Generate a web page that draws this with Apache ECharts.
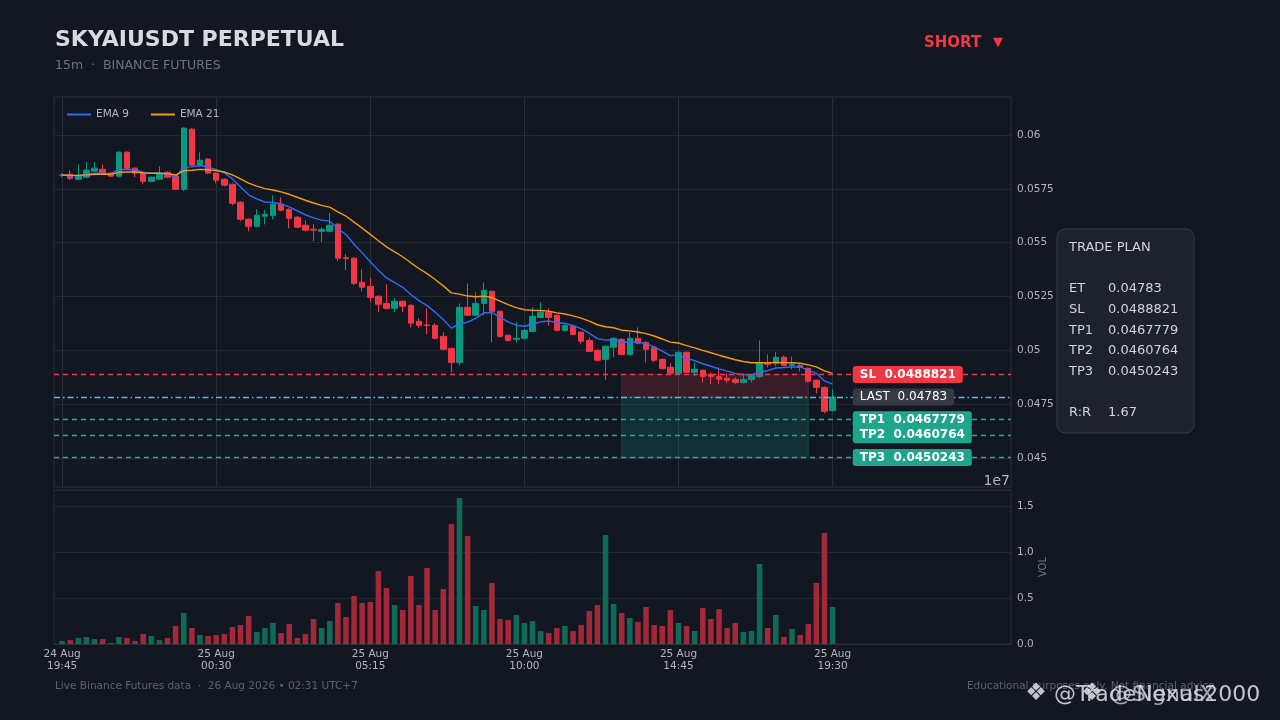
<!DOCTYPE html>
<html>
<head>
<meta charset="utf-8">
<script src="https://cdn.jsdelivr.net/npm/echarts@6/dist/echarts.min.js"></script>
<style>
html, body { margin: 0; padding: 0; background: #131722; }
#chart { width: 1280px; height: 720px; }
</style>
</head>
<body>
<div id="chart"></div>
<script>
// SKYAIUSDT 15m candles, 24 Aug 19:45 -> 25 Aug 19:30
const opens = [
  0.05813, 0.05818, 0.05795, 0.05804, 0.05832, 0.05841, 0.05823, 0.05809, 0.05920, 0.05846,
  0.05823, 0.05785, 0.05795, 0.05827, 0.05809, 0.05748, 0.06027, 0.05860, 0.05888, 0.05823,
  0.05795, 0.05771, 0.05688, 0.05609, 0.05576, 0.05623, 0.05627, 0.05679, 0.05655, 0.05618,
  0.05581, 0.05562, 0.05553, 0.05553, 0.05586, 0.05430, 0.05428, 0.05316, 0.05297, 0.05251,
  0.05218, 0.05195, 0.05228, 0.05209, 0.05135, 0.05118, 0.05116, 0.05065, 0.05009, 0.04944,
  0.05200, 0.05163, 0.05218, 0.05274, 0.05181, 0.05070, 0.05051, 0.05056, 0.05088, 0.05153,
  0.05177, 0.05163, 0.05093, 0.05112, 0.05084, 0.05046, 0.05000, 0.04958, 0.05014, 0.05051,
  0.04981, 0.05056, 0.05037, 0.05014, 0.04958, 0.04921, 0.04893, 0.04991, 0.04898, 0.04907,
  0.04888, 0.04879, 0.04870, 0.04865, 0.04851, 0.04865, 0.04879, 0.04944, 0.04940, 0.04968,
  0.04930, 0.04930, 0.04916, 0.04861, 0.04828, 0.04721
];
const closes = [
  0.05814, 0.05799, 0.05813, 0.05837, 0.05846, 0.05823, 0.05809, 0.05920, 0.05846, 0.05823,
  0.05785, 0.05804, 0.05823, 0.05804, 0.05748, 0.06032, 0.05860, 0.05883, 0.05823, 0.05790,
  0.05767, 0.05683, 0.05609, 0.05576, 0.05627, 0.05632, 0.05679, 0.05651, 0.05613, 0.05572,
  0.05558, 0.05558, 0.05562, 0.05581, 0.05428, 0.05427, 0.05311, 0.05293, 0.05246, 0.05214,
  0.05195, 0.05228, 0.05205, 0.05126, 0.05116, 0.05115, 0.05056, 0.05005, 0.04944, 0.05200,
  0.05163, 0.05218, 0.05279, 0.05181, 0.05065, 0.05046, 0.05056, 0.05093, 0.05158, 0.05177,
  0.05153, 0.05093, 0.05116, 0.05074, 0.05042, 0.04995, 0.04954, 0.05019, 0.05056, 0.04981,
  0.05056, 0.05033, 0.05005, 0.04954, 0.04916, 0.04893, 0.04991, 0.04898, 0.04912, 0.04879,
  0.04879, 0.04865, 0.04861, 0.04851, 0.04865, 0.04884, 0.04944, 0.04935, 0.04968, 0.04930,
  0.04935, 0.04921, 0.04856, 0.04828, 0.04717, 0.04783
];
const lows = [
  0.05804, 0.05790, 0.05790, 0.05799, 0.05827, 0.05818, 0.05804, 0.05804, 0.05841, 0.05804,
  0.05771, 0.05781, 0.05790, 0.05799, 0.05744, 0.05739, 0.05855, 0.05855, 0.05818, 0.05776,
  0.05762, 0.05674, 0.05600, 0.05553, 0.05572, 0.05585, 0.05609, 0.05646, 0.05567, 0.05567,
  0.05553, 0.05507, 0.05502, 0.05548, 0.05414, 0.05372, 0.05302, 0.05274, 0.05223, 0.05177,
  0.05190, 0.05177, 0.05177, 0.05107, 0.05102, 0.05074, 0.05051, 0.05000, 0.04898, 0.04930,
  0.05158, 0.05158, 0.05163, 0.05037, 0.05060, 0.05042, 0.05037, 0.05051, 0.05084, 0.05149,
  0.05116, 0.05088, 0.05088, 0.05070, 0.05028, 0.04991, 0.04949, 0.04861, 0.04968, 0.04977,
  0.04977, 0.05028, 0.04944, 0.04944, 0.04912, 0.04888, 0.04888, 0.04893, 0.04879, 0.04851,
  0.04842, 0.04842, 0.04847, 0.04842, 0.04847, 0.04851, 0.04870, 0.04921, 0.04926, 0.04926,
  0.04912, 0.04902, 0.04851, 0.04800, 0.04707, 0.04717
];
const highs = [
  0.05823, 0.05837, 0.05864, 0.05874, 0.05874, 0.05864, 0.05827, 0.05925, 0.05925, 0.05850,
  0.05827, 0.05809, 0.05855, 0.05832, 0.05813, 0.06036, 0.06032, 0.05920, 0.05892, 0.05827,
  0.05799, 0.05776, 0.05692, 0.05613, 0.05655, 0.05651, 0.05720, 0.05711, 0.05660, 0.05623,
  0.05604, 0.05586, 0.05572, 0.05637, 0.05590, 0.05446, 0.05432, 0.05376, 0.05335, 0.05255,
  0.05307, 0.05242, 0.05232, 0.05214, 0.05149, 0.05195, 0.05126, 0.05084, 0.05014, 0.05218,
  0.05311, 0.05270, 0.05316, 0.05279, 0.05186, 0.05074, 0.05130, 0.05098, 0.05200, 0.05223,
  0.05195, 0.05167, 0.05121, 0.05116, 0.05088, 0.05060, 0.05005, 0.05023, 0.05060, 0.05056,
  0.05084, 0.05107, 0.05042, 0.05019, 0.04963, 0.04940, 0.04995, 0.04995, 0.04944, 0.04912,
  0.04898, 0.04921, 0.04893, 0.04875, 0.04893, 0.04888, 0.05046, 0.04981, 0.04991, 0.04977,
  0.04972, 0.04935, 0.04921, 0.04865, 0.04833, 0.04819
];
const volumes = [
  330000, 430000, 650000, 760000, 540000, 540000, 110000, 760000, 650000, 330000,
  1090000, 870000, 430000, 650000, 1960000, 3370000, 1740000, 980000, 870000, 980000,
  1090000, 1850000, 2070000, 3040000, 1300000, 1740000, 2280000, 1200000, 2170000, 650000,
  1090000, 2720000, 1740000, 2500000, 4460000, 2930000, 5220000, 4460000, 4570000, 7930000,
  6090000, 4240000, 3700000, 7390000, 4240000, 8260000, 3700000, 5980000, 13040000, 15870000,
  11740000, 4130000, 3700000, 6630000, 2720000, 2610000, 3150000, 2280000, 2500000, 1410000,
  1200000, 1740000, 1960000, 1410000, 2070000, 3590000, 4240000, 11850000, 4350000, 3370000,
  2830000, 2390000, 4020000, 2070000, 1960000, 3700000, 2280000, 1960000, 1410000, 3910000,
  2720000, 3800000, 1740000, 2280000, 1300000, 1410000, 8700000, 1740000, 3150000, 760000,
  1630000, 980000, 2170000, 6630000, 12070000, 4020000
];

const tickIndex = [0, 19, 38, 57, 76, 95];
const tickLabels = ['24 Aug\n19:45', '25 Aug\n00:30', '25 Aug\n05:15', '25 Aug\n10:00', '25 Aug\n14:45', '25 Aug\n19:30'];
const priceTicks = [0.045, 0.0475, 0.05, 0.0525, 0.055, 0.0575, 0.06];

const ET = 0.04783;
const SL = 0.0488821;
const TP1 = 0.0467779;
const TP2 = 0.0460764;
const TP3 = 0.0450243;
const RR = 1.67;
const zoneStart = 69; // candle index where the plan zone begins
const zoneEnd = 92;

const UP = '#089981', DOWN = '#f23645';
const UP_VOL = '#0f6b59', DOWN_VOL = '#a3293a';
const TP_COL = '#22ab96', LAST_COL = '#55b8f0';
const FONT = '"DejaVu Sans", sans-serif';

// one empty slot before the first candle, room for labels after the last
const padBefore = 1, padAfter = 22;
const categories = [];
for (let i = 0; i < padBefore + opens.length + padAfter; i++) categories.push(i);

function ema(values, n) {
  const a = 2 / (n + 1);
  const out = [];
  let prev = values[0];
  values.forEach(v => { prev = a * v + (1 - a) * prev; out.push(prev); });
  return out;
}
const ema9 = ema(closes, 9);
const ema21 = ema(closes, 21);

const candleData = opens.map((o, i) => [i + padBefore, o, closes[i], lows[i], highs[i]]);
const volData = volumes.map((v, i) => ({
  value: [i + padBefore, v],
  itemStyle: { color: closes[i] >= opens[i] ? UP_VOL : DOWN_VOL }
}));
const tickSet = {};
tickIndex.forEach((t, k) => { tickSet[t + padBefore] = tickLabels[k]; });

// a dashed horizontal level drawn as its own markLine series
function level(name, value, color, dash) {
  return {
    name: name, type: 'line', xAxisIndex: 0, yAxisIndex: 0, data: [], z: 1,
    color: color,
    markLine: {
      silent: true, symbol: ['none', 'none'], label: { show: false }, precision: 8,
      lineStyle: { color: color, type: dash, width: 1.3, opacity: 1 },
      emphasis: { disabled: true },
      data: [{ yAxis: value }]
    }
  };
}

const chart = echarts.init(document.getElementById('chart'), null, { renderer: 'canvas' });

const grid = '#2a2e39';
const option = {
  backgroundColor: '#131722',
  animation: false,
  textStyle: { fontFamily: FONT },
  legend: {
    left: 62, top: 104, itemWidth: 24, itemHeight: 2, itemGap: 22, icon: 'rect',
    textStyle: { color: '#b2b5be', fontSize: 10.5, fontFamily: FONT },
    data: ['EMA 9', 'EMA 21']
  },
  grid: [
    { left: 54, right: 269, top: 97, height: 390, show: true, borderColor: grid, borderWidth: 1, backgroundColor: 'transparent' },
    { left: 54, right: 269, top: 490, height: 154, show: true, borderColor: grid, borderWidth: 1, backgroundColor: 'transparent' }
  ],
  xAxis: [
    {
      type: 'category', gridIndex: 0, data: categories, boundaryGap: false,
      axisLine: { show: false }, axisTick: { show: false }, axisLabel: { show: false },
      splitLine: { show: true, interval: i => tickSet[i] !== undefined, lineStyle: { color: grid, width: 1 } }
    },
    {
      type: 'category', gridIndex: 1, data: categories, boundaryGap: false,
      axisLine: { show: true, lineStyle: { color: grid } }, axisTick: { show: false },
      axisLabel: {
        interval: i => tickSet[i] !== undefined,
        formatter: (v, i) => tickSet[i] || '',
        color: '#b2b5be', fontSize: 10.5, lineHeight: 12, margin: 4, fontFamily: FONT
      },
      splitLine: { show: false }
    }
  ],
  yAxis: [
    {
      type: 'value', gridIndex: 0, position: 'right', scale: true,
      min: 0.043653, max: 0.061765,
      axisLine: { show: false },
      axisTick: { show: false, customValues: priceTicks },
      axisLabel: {
        customValues: priceTicks, color: '#b2b5be', fontSize: 10.5, margin: 6, fontFamily: FONT,
        formatter: v => String(+v.toFixed(4))
      },
      splitLine: { show: true, lineStyle: { color: '#242833', width: 1 } }
    },
    {
      type: 'value', gridIndex: 1, position: 'right',
      min: 0, max: 16740000, interval: 5000000,
      axisLine: { show: false }, axisTick: { show: false },
      axisLabel: {
        color: '#b2b5be', fontSize: 10.5, margin: 6, showMaxLabel: false, fontFamily: FONT,
        formatter: v => (v / 1e7).toFixed(1)
      },
      splitLine: { show: true, lineStyle: { color: '#242833', width: 1 } }
    }
  ],
  series: [
    {
      name: 'Price', type: 'candlestick', xAxisIndex: 0, yAxisIndex: 0,
      data: candleData, encode: { x: 0, y: [1, 2, 3, 4] },
      barWidth: '74%', z: 3,
      itemStyle: { color: UP, color0: DOWN, borderColor: UP, borderColor0: DOWN, borderWidth: 1 },
      markArea: {
        silent: true,
        data: [
          [{ xAxis: zoneStart + padBefore, yAxis: SL, itemStyle: { color: 'rgba(242,54,69,0.17)', borderColor: 'rgba(242,54,69,0.25)', borderWidth: 1 } },
           { xAxis: zoneEnd + padBefore, yAxis: ET }],
          [{ xAxis: zoneStart + padBefore, yAxis: ET, itemStyle: { color: 'rgba(8,153,129,0.2)', borderColor: 'rgba(8,153,129,0.3)', borderWidth: 1 } },
           { xAxis: zoneEnd + padBefore, yAxis: TP3 }]
        ]
      }
    },
    {
      name: 'EMA 9', type: 'line', xAxisIndex: 0, yAxisIndex: 0,
      data: ema9.map((v, i) => [i + padBefore, v]),
      showSymbol: false, color: '#2f6bff', lineStyle: { width: 1.4, color: '#2f6bff' }, z: 4
    },
    {
      name: 'EMA 21', type: 'line', xAxisIndex: 0, yAxisIndex: 0,
      data: ema21.map((v, i) => [i + padBefore, v]),
      showSymbol: false, color: '#f59a12', lineStyle: { width: 1.4, color: '#f59a12' }, z: 4
    },
    level('SL level', SL, '#f23645', [5, 4]),
    level('Last level', ET, LAST_COL, [6, 3, 1.5, 3]),
    level('TP1 level', TP1, TP_COL, [5, 4]),
    level('TP2 level', TP2, TP_COL, [5, 4]),
    level('TP3 level', TP3, TP_COL, [5, 4]),
    {
      name: 'Volume', type: 'bar', xAxisIndex: 1, yAxisIndex: 1,
      data: volData, barWidth: '68%'
    }
  ]
};
chart.setOption(option);

// labels that sit on the price lines, placed through the axis scales
const toPx = (cat, v) => chart.convertToPixel({ gridIndex: 0 }, [cat, v]);
const tagX = toPx(98, SL)[0] + 4;
function tag(text, value, bg, bold) {
  return {
    type: 'text', x: tagX, y: toPx(0, value)[1], z: 10,
    style: {
      text: text, fill: '#ffffff', font: (bold ? 'bold ' : '') + '12px ' + FONT,
      verticalAlign: 'middle', backgroundColor: bg, padding: [3, 7, 2, 7], borderRadius: 3
    }
  };
}
const txt = (x, y, text, font, fill, extra) => ({
  type: 'text', x: x, y: y, z: 10,
  style: Object.assign({ text: text, font: font, fill: fill, verticalAlign: 'middle' }, extra || {})
});

chart.setOption({
  graphic: [
    txt(55, 40, 'SKYAIUSDT PERPETUAL', 'bold 22px ' + FONT, '#d8dae0'),
    txt(55, 66, '15m  ·  BINANCE FUTURES', '12.5px ' + FONT, '#6f737e'),
    txt(924, 43, 'SHORT', 'bold 15px ' + FONT, '#f23645'),
    txt(993, 43, '▼', '13px ' + FONT, '#f23645'),

    tag('SL  ' + SL, SL, '#f23645', true),
    tag('LAST  ' + ET, ET, '#363a45', false),
    tag('TP1  ' + TP1, TP1, '#1fa58c', true),
    tag('TP2  ' + TP2, TP2, '#1fa58c', true),
    tag('TP3  ' + TP3, TP3, '#1fa58c', true),

    txt(1010, 481, '1e7', '14px ' + FONT, '#b2b5be', { align: 'right' }),
    { type: 'text', x: 1043, y: 567, rotation: Math.PI / 2, z: 10,
      style: { text: 'VOL', font: '10px ' + FONT, fill: '#6f737e', align: 'center', verticalAlign: 'middle' } },

    { type: 'rect', shape: { x: 1057, y: 229, width: 137, height: 204, r: 8 }, z: 9,
      style: { fill: '#1e222d', stroke: '#363a45', lineWidth: 1 } },
    { type: 'text', x: 1069, y: 237, z: 10,
      style: { text: 'TRADE PLAN\n\nET\nSL\nTP1\nTP2\nTP3\n\nR:R', font: '13px ' + FONT, fill: '#d1d4dc', lineHeight: 20.7 } },
    { type: 'text', x: 1108, y: 237, z: 10,
      style: { text: '\n\n' + ET + '\n' + SL + '\n' + TP1 + '\n' + TP2 + '\n' + TP3 + '\n\n' + RR, font: '13px ' + FONT, fill: '#d1d4dc', lineHeight: 20.7 } },

    txt(55, 686, 'Live Binance Futures data  ·  26 Aug 2026 • 02:31 UTC+7', '10.5px ' + FONT, '#5d616b'),
    txt(1218, 686, 'Educational purposes only. Not financial advice.', '10.5px ' + FONT, '#5d616b', { align: 'right' }),

    txt(1036, 694, '❖', '24px ' + FONT, 'rgba(214,216,222,0.9)', { align: 'center' }),
    txt(1054, 695, '@TradeNexus2000', '22px ' + FONT, 'rgba(214,216,222,0.9)'),
    txt(1092, 694, '❖', '24px ' + FONT, 'rgba(214,216,222,0.9)', { align: 'center' }),
    txt(1110, 695, '@SignalX', '22px ' + FONT, 'rgba(214,216,222,0.75)')
  ]
});
</script>
</body>
</html>
